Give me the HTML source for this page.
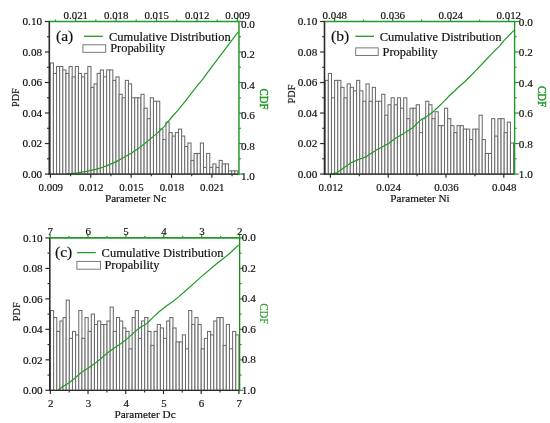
<!DOCTYPE html>
<html><head><meta charset="utf-8"><title>PDF and CDF of parameters</title>
<style>
html,body{margin:0;padding:0;background:#fff;}
svg{display:block;font-family:"Liberation Serif","Times New Roman",serif;}
</style></head><body>
<svg width="550" height="423" viewBox="0 0 550 423">
<rect x="0" y="0" width="550" height="423" fill="#fff"/>
<g fill="#fff" stroke="#6c6c6c" stroke-width="1.05">
<rect x="50.30" y="62.99" width="3.13" height="111.06"/>
<rect x="53.43" y="73.43" width="3.13" height="100.62"/>
<rect x="56.55" y="66.47" width="3.13" height="107.58"/>
<rect x="59.68" y="66.47" width="3.13" height="107.58"/>
<rect x="62.81" y="69.95" width="3.13" height="104.10"/>
<rect x="65.93" y="73.43" width="3.13" height="100.62"/>
<rect x="69.06" y="66.47" width="3.13" height="107.58"/>
<rect x="72.19" y="76.91" width="3.13" height="97.14"/>
<rect x="75.31" y="66.47" width="3.13" height="107.58"/>
<rect x="78.44" y="73.43" width="3.13" height="100.62"/>
<rect x="81.57" y="76.91" width="3.13" height="97.14"/>
<rect x="84.69" y="73.43" width="3.13" height="100.62"/>
<rect x="87.82" y="66.47" width="3.13" height="107.58"/>
<rect x="90.95" y="87.35" width="3.13" height="86.70"/>
<rect x="94.07" y="83.87" width="3.13" height="90.18"/>
<rect x="97.20" y="73.43" width="3.13" height="100.62"/>
<rect x="100.33" y="69.95" width="3.13" height="104.10"/>
<rect x="103.45" y="76.91" width="3.13" height="97.14"/>
<rect x="106.58" y="69.95" width="3.13" height="104.10"/>
<rect x="109.71" y="69.95" width="3.13" height="104.10"/>
<rect x="112.83" y="80.39" width="3.13" height="93.66"/>
<rect x="115.96" y="76.91" width="3.13" height="97.14"/>
<rect x="119.09" y="94.31" width="3.13" height="79.74"/>
<rect x="122.21" y="97.79" width="3.13" height="76.26"/>
<rect x="125.34" y="80.39" width="3.13" height="93.66"/>
<rect x="128.47" y="83.87" width="3.13" height="90.18"/>
<rect x="131.59" y="97.79" width="3.13" height="76.26"/>
<rect x="134.72" y="97.79" width="3.13" height="76.26"/>
<rect x="137.85" y="97.79" width="3.13" height="76.26"/>
<rect x="140.97" y="94.31" width="3.13" height="79.74"/>
<rect x="144.10" y="108.23" width="3.13" height="65.82"/>
<rect x="147.23" y="118.67" width="3.13" height="55.38"/>
<rect x="150.35" y="97.79" width="3.13" height="76.26"/>
<rect x="153.48" y="101.27" width="3.13" height="72.78"/>
<rect x="156.61" y="101.27" width="3.13" height="72.78"/>
<rect x="159.73" y="129.11" width="3.13" height="44.94"/>
<rect x="162.86" y="139.55" width="3.13" height="34.50"/>
<rect x="165.99" y="122.15" width="3.13" height="51.90"/>
<rect x="169.11" y="132.59" width="3.13" height="41.46"/>
<rect x="172.24" y="136.07" width="3.13" height="37.98"/>
<rect x="175.37" y="132.59" width="3.13" height="41.46"/>
<rect x="178.49" y="129.11" width="3.13" height="44.94"/>
<rect x="181.62" y="136.07" width="3.13" height="37.98"/>
<rect x="184.75" y="146.51" width="3.13" height="27.54"/>
<rect x="187.87" y="143.03" width="3.13" height="31.02"/>
<rect x="191.00" y="160.43" width="3.13" height="13.62"/>
<rect x="194.13" y="153.47" width="3.13" height="20.58"/>
<rect x="197.25" y="153.47" width="3.13" height="20.58"/>
<rect x="200.38" y="143.03" width="3.13" height="31.02"/>
<rect x="203.51" y="167.39" width="3.13" height="6.66"/>
<rect x="206.63" y="153.47" width="3.13" height="20.58"/>
<rect x="209.76" y="167.39" width="3.13" height="6.66"/>
<rect x="212.89" y="163.91" width="3.13" height="10.14"/>
<rect x="216.01" y="167.39" width="3.13" height="6.66"/>
<rect x="219.14" y="160.43" width="3.13" height="13.62"/>
<rect x="222.27" y="163.91" width="3.13" height="10.14"/>
<rect x="225.39" y="163.91" width="3.13" height="10.14"/>
<rect x="228.52" y="170.87" width="3.13" height="3.18"/>
<rect x="231.65" y="170.87" width="3.13" height="3.18"/>
<rect x="234.77" y="170.87" width="3.13" height="3.18"/>
</g>
<polyline points="66.0,173.9 70.0,173.7 77.3,172.8 86.4,171.3 95.5,169.3 100.0,168.2 106.4,165.9 112.8,163.1 119.2,160.1 125.5,156.5 131.9,152.8 138.3,148.6 144.7,143.5 151.1,138.4 157.5,132.9 163.9,126.9 166.2,124.0 171.9,117.0 178.3,109.8 184.7,101.9 191.1,93.6 197.5,85.3 202.4,79.6 209.5,69.9 216.0,61.4 222.5,52.7 229.0,44.1 235.5,35.4 238.3,31.9" fill="none" stroke="#229a26" stroke-width="1.2" stroke-linejoin="round"/>
<line x1="49.30" y1="20.90" x2="49.30" y2="174.75" stroke="#2b2b2b" stroke-width="1.6"/>
<line x1="48.50" y1="174.05" x2="238.95" y2="174.05" stroke="#2b2b2b" stroke-width="1.25"/>
<line x1="49.30" y1="21.50" x2="239.65" y2="21.50" stroke="#229a26" stroke-width="1.3"/>
<line x1="238.95" y1="21.50" x2="238.95" y2="174.65" stroke="#229a26" stroke-width="1.5"/>
<line x1="44.90" y1="21.50" x2="49.30" y2="21.50" stroke="#2b2b2b" stroke-width="1.2"/>
<text x="42.10" y="25.25" font-size="11.2" text-anchor="end" fill="#111" stroke="#111" stroke-width="0.18">0.10</text>
<line x1="47.00" y1="36.76" x2="49.30" y2="36.76" stroke="#2b2b2b" stroke-width="1.1"/>
<line x1="44.90" y1="52.01" x2="49.30" y2="52.01" stroke="#2b2b2b" stroke-width="1.2"/>
<text x="42.10" y="55.76" font-size="11.2" text-anchor="end" fill="#111" stroke="#111" stroke-width="0.18">0.08</text>
<line x1="47.00" y1="67.27" x2="49.30" y2="67.27" stroke="#2b2b2b" stroke-width="1.1"/>
<line x1="44.90" y1="82.52" x2="49.30" y2="82.52" stroke="#2b2b2b" stroke-width="1.2"/>
<text x="42.10" y="86.27" font-size="11.2" text-anchor="end" fill="#111" stroke="#111" stroke-width="0.18">0.06</text>
<line x1="47.00" y1="97.78" x2="49.30" y2="97.78" stroke="#2b2b2b" stroke-width="1.1"/>
<line x1="44.90" y1="113.03" x2="49.30" y2="113.03" stroke="#2b2b2b" stroke-width="1.2"/>
<text x="42.10" y="116.78" font-size="11.2" text-anchor="end" fill="#111" stroke="#111" stroke-width="0.18">0.04</text>
<line x1="47.00" y1="128.29" x2="49.30" y2="128.29" stroke="#2b2b2b" stroke-width="1.1"/>
<line x1="44.90" y1="143.54" x2="49.30" y2="143.54" stroke="#2b2b2b" stroke-width="1.2"/>
<text x="42.10" y="147.29" font-size="11.2" text-anchor="end" fill="#111" stroke="#111" stroke-width="0.18">0.02</text>
<line x1="47.00" y1="158.80" x2="49.30" y2="158.80" stroke="#2b2b2b" stroke-width="1.1"/>
<line x1="44.90" y1="174.05" x2="49.30" y2="174.05" stroke="#2b2b2b" stroke-width="1.2"/>
<text x="42.10" y="177.80" font-size="11.2" text-anchor="end" fill="#111" stroke="#111" stroke-width="0.18">0.00</text>
<line x1="238.95" y1="21.50" x2="242.55" y2="21.50" stroke="#229a26" stroke-width="1.2"/>
<text x="240.95" y="27.90" font-size="11.2" text-anchor="start" fill="#111" stroke="#111" stroke-width="0.18">0.0</text>
<line x1="238.95" y1="36.76" x2="240.95" y2="36.76" stroke="#229a26" stroke-width="1.1"/>
<line x1="238.95" y1="52.01" x2="242.55" y2="52.01" stroke="#229a26" stroke-width="1.2"/>
<text x="240.95" y="58.41" font-size="11.2" text-anchor="start" fill="#111" stroke="#111" stroke-width="0.18">0.2</text>
<line x1="238.95" y1="67.27" x2="240.95" y2="67.27" stroke="#229a26" stroke-width="1.1"/>
<line x1="238.95" y1="82.52" x2="242.55" y2="82.52" stroke="#229a26" stroke-width="1.2"/>
<text x="240.95" y="88.92" font-size="11.2" text-anchor="start" fill="#111" stroke="#111" stroke-width="0.18">0.4</text>
<line x1="238.95" y1="97.78" x2="240.95" y2="97.78" stroke="#229a26" stroke-width="1.1"/>
<line x1="238.95" y1="113.03" x2="242.55" y2="113.03" stroke="#229a26" stroke-width="1.2"/>
<text x="240.95" y="119.43" font-size="11.2" text-anchor="start" fill="#111" stroke="#111" stroke-width="0.18">0.6</text>
<line x1="238.95" y1="128.29" x2="240.95" y2="128.29" stroke="#229a26" stroke-width="1.1"/>
<line x1="238.95" y1="143.54" x2="242.55" y2="143.54" stroke="#229a26" stroke-width="1.2"/>
<text x="240.95" y="149.94" font-size="11.2" text-anchor="start" fill="#111" stroke="#111" stroke-width="0.18">0.8</text>
<line x1="238.95" y1="158.80" x2="240.95" y2="158.80" stroke="#229a26" stroke-width="1.1"/>
<line x1="238.95" y1="174.05" x2="242.55" y2="174.05" stroke="#229a26" stroke-width="1.2"/>
<text x="240.95" y="180.45" font-size="11.2" text-anchor="start" fill="#111" stroke="#111" stroke-width="0.18">1.0</text>
<line x1="50.40" y1="174.05" x2="50.40" y2="177.85" stroke="#2b2b2b" stroke-width="1.2"/>
<text x="50.80" y="190.55" font-size="10.9" text-anchor="middle" fill="#111" stroke="#111" stroke-width="0.18">0.009</text>
<line x1="70.58" y1="174.05" x2="70.58" y2="176.25" stroke="#2b2b2b" stroke-width="1.1"/>
<line x1="90.77" y1="174.05" x2="90.77" y2="177.85" stroke="#2b2b2b" stroke-width="1.2"/>
<text x="91.17" y="190.55" font-size="10.9" text-anchor="middle" fill="#111" stroke="#111" stroke-width="0.18">0.012</text>
<line x1="110.95" y1="174.05" x2="110.95" y2="176.25" stroke="#2b2b2b" stroke-width="1.1"/>
<line x1="131.14" y1="174.05" x2="131.14" y2="177.85" stroke="#2b2b2b" stroke-width="1.2"/>
<text x="131.54" y="190.55" font-size="10.9" text-anchor="middle" fill="#111" stroke="#111" stroke-width="0.18">0.015</text>
<line x1="151.32" y1="174.05" x2="151.32" y2="176.25" stroke="#2b2b2b" stroke-width="1.1"/>
<line x1="171.51" y1="174.05" x2="171.51" y2="177.85" stroke="#2b2b2b" stroke-width="1.2"/>
<text x="171.91" y="190.55" font-size="10.9" text-anchor="middle" fill="#111" stroke="#111" stroke-width="0.18">0.018</text>
<line x1="191.69" y1="174.05" x2="191.69" y2="176.25" stroke="#2b2b2b" stroke-width="1.1"/>
<line x1="211.88" y1="174.05" x2="211.88" y2="177.85" stroke="#2b2b2b" stroke-width="1.2"/>
<text x="212.28" y="190.55" font-size="10.9" text-anchor="middle" fill="#111" stroke="#111" stroke-width="0.18">0.021</text>
<line x1="232.06" y1="174.05" x2="232.06" y2="176.25" stroke="#2b2b2b" stroke-width="1.1"/>
<line x1="75.60" y1="21.50" x2="75.60" y2="17.70" stroke="#229a26" stroke-width="1.2"/>
<text x="75.80" y="19.00" font-size="10.9" text-anchor="middle" fill="#111" stroke="#111" stroke-width="0.18">0.021</text>
<line x1="95.82" y1="21.50" x2="95.82" y2="19.50" stroke="#229a26" stroke-width="1.1"/>
<line x1="116.05" y1="21.50" x2="116.05" y2="17.70" stroke="#229a26" stroke-width="1.2"/>
<text x="116.25" y="19.00" font-size="10.9" text-anchor="middle" fill="#111" stroke="#111" stroke-width="0.18">0.018</text>
<line x1="136.28" y1="21.50" x2="136.28" y2="19.50" stroke="#229a26" stroke-width="1.1"/>
<line x1="156.50" y1="21.50" x2="156.50" y2="17.70" stroke="#229a26" stroke-width="1.2"/>
<text x="156.70" y="19.00" font-size="10.9" text-anchor="middle" fill="#111" stroke="#111" stroke-width="0.18">0.015</text>
<line x1="176.72" y1="21.50" x2="176.72" y2="19.50" stroke="#229a26" stroke-width="1.1"/>
<line x1="196.95" y1="21.50" x2="196.95" y2="17.70" stroke="#229a26" stroke-width="1.2"/>
<text x="197.15" y="19.00" font-size="10.9" text-anchor="middle" fill="#111" stroke="#111" stroke-width="0.18">0.012</text>
<line x1="217.18" y1="21.50" x2="217.18" y2="19.50" stroke="#229a26" stroke-width="1.1"/>
<line x1="237.40" y1="21.50" x2="237.40" y2="17.70" stroke="#229a26" stroke-width="1.2"/>
<text x="237.60" y="19.00" font-size="10.9" text-anchor="middle" fill="#111" stroke="#111" stroke-width="0.18">0.009</text>
<line x1="55.37" y1="21.50" x2="55.37" y2="19.50" stroke="#229a26" stroke-width="1.1"/>
<text x="135.50" y="201.65" font-size="11.2" text-anchor="middle" fill="#111" stroke="#111" stroke-width="0.18">Parameter Nc</text>
<text transform="translate(19.40,97.60) rotate(-90)" font-size="11.3" text-anchor="middle" fill="#111" stroke="#111" stroke-width="0.18" textLength="18.8" lengthAdjust="spacingAndGlyphs">PDF</text>
<text transform="translate(259.55,99.00) rotate(90)" font-size="12.6" text-anchor="middle" fill="#229a26" stroke="#229a26" stroke-width="0.45" textLength="20.8" lengthAdjust="spacingAndGlyphs">CDF</text>
<text x="56.00" y="40.90" font-size="15.6" text-anchor="start" fill="#111" stroke="#111" stroke-width="0.18">(a)</text>
<line x1="84.10" y1="36.30" x2="102.80" y2="36.30" stroke="#229a26" stroke-width="1.3"/>
<text x="108.90" y="40.60" font-size="12.5" text-anchor="start" fill="#111" stroke="#111" stroke-width="0.18">Cumulative Distribution</text>
<rect x="82.90" y="44.80" width="22.80" height="7.50" fill="#fff" stroke="#6c6c6c" stroke-width="0.9"/>
<text x="110.20" y="52.40" font-size="12.4" text-anchor="start" fill="#111" stroke="#111" stroke-width="0.18">Propability</text>
<g fill="#fff" stroke="#6c6c6c" stroke-width="1.05">
<rect x="325.20" y="80.39" width="3.14" height="93.66"/>
<rect x="328.34" y="73.43" width="3.14" height="100.62"/>
<rect x="331.48" y="97.79" width="3.14" height="76.26"/>
<rect x="334.62" y="80.39" width="3.14" height="93.66"/>
<rect x="337.76" y="80.39" width="3.14" height="93.66"/>
<rect x="340.90" y="87.35" width="3.14" height="86.70"/>
<rect x="344.04" y="97.79" width="3.14" height="76.26"/>
<rect x="347.18" y="83.87" width="3.14" height="90.18"/>
<rect x="350.32" y="87.35" width="3.14" height="86.70"/>
<rect x="353.46" y="90.83" width="3.14" height="83.22"/>
<rect x="356.60" y="80.39" width="3.14" height="93.66"/>
<rect x="359.74" y="90.83" width="3.14" height="83.22"/>
<rect x="362.88" y="101.27" width="3.14" height="72.78"/>
<rect x="366.02" y="83.87" width="3.14" height="90.18"/>
<rect x="369.16" y="101.27" width="3.14" height="72.78"/>
<rect x="372.30" y="87.35" width="3.14" height="86.70"/>
<rect x="375.44" y="101.27" width="3.14" height="72.78"/>
<rect x="378.58" y="101.27" width="3.14" height="72.78"/>
<rect x="381.72" y="94.31" width="3.14" height="79.74"/>
<rect x="384.86" y="115.19" width="3.14" height="58.86"/>
<rect x="388.00" y="104.75" width="3.14" height="69.30"/>
<rect x="391.14" y="97.79" width="3.14" height="76.26"/>
<rect x="394.28" y="104.75" width="3.14" height="69.30"/>
<rect x="397.42" y="97.79" width="3.14" height="76.26"/>
<rect x="400.56" y="108.23" width="3.14" height="65.82"/>
<rect x="403.70" y="97.79" width="3.14" height="76.26"/>
<rect x="406.84" y="118.67" width="3.14" height="55.38"/>
<rect x="409.98" y="108.23" width="3.14" height="65.82"/>
<rect x="413.12" y="108.23" width="3.14" height="65.82"/>
<rect x="416.26" y="104.75" width="3.14" height="69.30"/>
<rect x="419.40" y="132.59" width="3.14" height="41.46"/>
<rect x="422.54" y="118.67" width="3.14" height="55.38"/>
<rect x="425.68" y="101.27" width="3.14" height="72.78"/>
<rect x="428.82" y="104.75" width="3.14" height="69.30"/>
<rect x="431.96" y="118.67" width="3.14" height="55.38"/>
<rect x="435.10" y="111.71" width="3.14" height="62.34"/>
<rect x="438.24" y="125.63" width="3.14" height="48.42"/>
<rect x="441.38" y="125.63" width="3.14" height="48.42"/>
<rect x="444.52" y="108.23" width="3.14" height="65.82"/>
<rect x="447.66" y="118.67" width="3.14" height="55.38"/>
<rect x="450.80" y="125.63" width="3.14" height="48.42"/>
<rect x="453.94" y="132.59" width="3.14" height="41.46"/>
<rect x="457.08" y="125.63" width="3.14" height="48.42"/>
<rect x="460.22" y="125.63" width="3.14" height="48.42"/>
<rect x="463.36" y="129.11" width="3.14" height="44.94"/>
<rect x="466.50" y="129.11" width="3.14" height="44.94"/>
<rect x="469.64" y="139.55" width="3.14" height="34.50"/>
<rect x="472.78" y="129.11" width="3.14" height="44.94"/>
<rect x="475.92" y="129.11" width="3.14" height="44.94"/>
<rect x="479.06" y="115.19" width="3.14" height="58.86"/>
<rect x="482.20" y="139.55" width="3.14" height="34.50"/>
<rect x="485.34" y="153.47" width="3.14" height="20.58"/>
<rect x="488.48" y="153.47" width="3.14" height="20.58"/>
<rect x="491.62" y="118.67" width="3.14" height="55.38"/>
<rect x="494.76" y="136.07" width="3.14" height="37.98"/>
<rect x="497.90" y="118.67" width="3.14" height="55.38"/>
<rect x="501.04" y="118.67" width="3.14" height="55.38"/>
<rect x="504.18" y="132.59" width="3.14" height="41.46"/>
<rect x="507.32" y="122.15" width="3.14" height="51.90"/>
<rect x="510.46" y="143.03" width="3.14" height="31.02"/>
</g>
<polyline points="330.7,173.8 335.9,173.2 337.8,171.9 344.2,167.4 350.5,163.0 356.9,160.1 363.3,157.8 366.5,156.6 369.7,154.3 376.1,150.2 382.5,146.7 388.9,143.2 391.3,141.2 396.4,137.8 402.8,134.0 409.2,130.1 413.0,127.6 415.5,125.0 420.0,120.6 421.9,119.3 428.3,115.5 432.1,112.6 434.7,110.3 441.1,104.2 443.5,101.8 450.0,95.0 455.0,90.5 460.0,85.8 465.0,81.5 470.0,76.5 475.7,70.6 484.0,62.0 492.2,53.3 499.7,45.8 503.9,40.6 513.9,30.3" fill="none" stroke="#229a26" stroke-width="1.2" stroke-linejoin="round"/>
<line x1="324.50" y1="20.90" x2="324.50" y2="174.75" stroke="#2b2b2b" stroke-width="1.6"/>
<line x1="323.70" y1="174.05" x2="514.60" y2="174.05" stroke="#2b2b2b" stroke-width="1.25"/>
<line x1="324.50" y1="21.50" x2="515.20" y2="21.50" stroke="#229a26" stroke-width="1.3"/>
<line x1="514.60" y1="21.50" x2="514.60" y2="174.65" stroke="#1e9422" stroke-width="1.35"/>
<line x1="320.10" y1="21.50" x2="324.50" y2="21.50" stroke="#2b2b2b" stroke-width="1.2"/>
<text x="317.30" y="25.25" font-size="11.2" text-anchor="end" fill="#111" stroke="#111" stroke-width="0.18">0.10</text>
<line x1="322.20" y1="36.76" x2="324.50" y2="36.76" stroke="#2b2b2b" stroke-width="1.1"/>
<line x1="320.10" y1="52.01" x2="324.50" y2="52.01" stroke="#2b2b2b" stroke-width="1.2"/>
<text x="317.30" y="55.76" font-size="11.2" text-anchor="end" fill="#111" stroke="#111" stroke-width="0.18">0.08</text>
<line x1="322.20" y1="67.27" x2="324.50" y2="67.27" stroke="#2b2b2b" stroke-width="1.1"/>
<line x1="320.10" y1="82.52" x2="324.50" y2="82.52" stroke="#2b2b2b" stroke-width="1.2"/>
<text x="317.30" y="86.27" font-size="11.2" text-anchor="end" fill="#111" stroke="#111" stroke-width="0.18">0.06</text>
<line x1="322.20" y1="97.78" x2="324.50" y2="97.78" stroke="#2b2b2b" stroke-width="1.1"/>
<line x1="320.10" y1="113.03" x2="324.50" y2="113.03" stroke="#2b2b2b" stroke-width="1.2"/>
<text x="317.30" y="116.78" font-size="11.2" text-anchor="end" fill="#111" stroke="#111" stroke-width="0.18">0.04</text>
<line x1="322.20" y1="128.29" x2="324.50" y2="128.29" stroke="#2b2b2b" stroke-width="1.1"/>
<line x1="320.10" y1="143.54" x2="324.50" y2="143.54" stroke="#2b2b2b" stroke-width="1.2"/>
<text x="317.30" y="147.29" font-size="11.2" text-anchor="end" fill="#111" stroke="#111" stroke-width="0.18">0.02</text>
<line x1="322.20" y1="158.80" x2="324.50" y2="158.80" stroke="#2b2b2b" stroke-width="1.1"/>
<line x1="320.10" y1="174.05" x2="324.50" y2="174.05" stroke="#2b2b2b" stroke-width="1.2"/>
<text x="317.30" y="177.80" font-size="11.2" text-anchor="end" fill="#111" stroke="#111" stroke-width="0.18">0.00</text>
<line x1="514.60" y1="21.50" x2="518.90" y2="21.50" stroke="#229a26" stroke-width="1.2"/>
<text x="518.80" y="25.80" font-size="11.2" text-anchor="start" fill="#111" stroke="#111" stroke-width="0.18">0.0</text>
<line x1="514.60" y1="36.76" x2="516.60" y2="36.76" stroke="#229a26" stroke-width="1.1"/>
<line x1="514.60" y1="52.01" x2="518.90" y2="52.01" stroke="#229a26" stroke-width="1.2"/>
<text x="518.80" y="56.31" font-size="11.2" text-anchor="start" fill="#111" stroke="#111" stroke-width="0.18">0.2</text>
<line x1="514.60" y1="67.27" x2="516.60" y2="67.27" stroke="#229a26" stroke-width="1.1"/>
<line x1="514.60" y1="82.52" x2="518.90" y2="82.52" stroke="#229a26" stroke-width="1.2"/>
<text x="518.80" y="86.82" font-size="11.2" text-anchor="start" fill="#111" stroke="#111" stroke-width="0.18">0.4</text>
<line x1="514.60" y1="97.78" x2="516.60" y2="97.78" stroke="#229a26" stroke-width="1.1"/>
<line x1="514.60" y1="113.03" x2="518.90" y2="113.03" stroke="#229a26" stroke-width="1.2"/>
<text x="518.80" y="117.33" font-size="11.2" text-anchor="start" fill="#111" stroke="#111" stroke-width="0.18">0.6</text>
<line x1="514.60" y1="128.29" x2="516.60" y2="128.29" stroke="#229a26" stroke-width="1.1"/>
<line x1="514.60" y1="143.54" x2="518.90" y2="143.54" stroke="#229a26" stroke-width="1.2"/>
<text x="518.80" y="147.84" font-size="11.2" text-anchor="start" fill="#111" stroke="#111" stroke-width="0.18">0.8</text>
<line x1="514.60" y1="158.80" x2="516.60" y2="158.80" stroke="#229a26" stroke-width="1.1"/>
<line x1="514.60" y1="174.05" x2="518.90" y2="174.05" stroke="#229a26" stroke-width="1.2"/>
<text x="518.80" y="178.35" font-size="11.2" text-anchor="start" fill="#111" stroke="#111" stroke-width="0.18">1.0</text>
<line x1="330.40" y1="174.05" x2="330.40" y2="177.85" stroke="#2b2b2b" stroke-width="1.2"/>
<text x="330.80" y="190.55" font-size="10.9" text-anchor="middle" fill="#111" stroke="#111" stroke-width="0.18">0.012</text>
<line x1="359.30" y1="174.05" x2="359.30" y2="176.25" stroke="#2b2b2b" stroke-width="1.1"/>
<line x1="388.20" y1="174.05" x2="388.20" y2="177.85" stroke="#2b2b2b" stroke-width="1.2"/>
<text x="388.60" y="190.55" font-size="10.9" text-anchor="middle" fill="#111" stroke="#111" stroke-width="0.18">0.024</text>
<line x1="417.10" y1="174.05" x2="417.10" y2="176.25" stroke="#2b2b2b" stroke-width="1.1"/>
<line x1="446.00" y1="174.05" x2="446.00" y2="177.85" stroke="#2b2b2b" stroke-width="1.2"/>
<text x="446.40" y="190.55" font-size="10.9" text-anchor="middle" fill="#111" stroke="#111" stroke-width="0.18">0.036</text>
<line x1="474.90" y1="174.05" x2="474.90" y2="176.25" stroke="#2b2b2b" stroke-width="1.1"/>
<line x1="503.80" y1="174.05" x2="503.80" y2="177.85" stroke="#2b2b2b" stroke-width="1.2"/>
<text x="504.20" y="190.55" font-size="10.9" text-anchor="middle" fill="#111" stroke="#111" stroke-width="0.18">0.048</text>
<line x1="334.60" y1="21.50" x2="334.60" y2="17.70" stroke="#229a26" stroke-width="1.2"/>
<text x="334.80" y="19.00" font-size="10.9" text-anchor="middle" fill="#111" stroke="#111" stroke-width="0.18">0.048</text>
<line x1="363.60" y1="21.50" x2="363.60" y2="19.50" stroke="#229a26" stroke-width="1.1"/>
<line x1="392.60" y1="21.50" x2="392.60" y2="17.70" stroke="#229a26" stroke-width="1.2"/>
<text x="392.80" y="19.00" font-size="10.9" text-anchor="middle" fill="#111" stroke="#111" stroke-width="0.18">0.036</text>
<line x1="421.60" y1="21.50" x2="421.60" y2="19.50" stroke="#229a26" stroke-width="1.1"/>
<line x1="450.60" y1="21.50" x2="450.60" y2="17.70" stroke="#229a26" stroke-width="1.2"/>
<text x="450.80" y="19.00" font-size="10.9" text-anchor="middle" fill="#111" stroke="#111" stroke-width="0.18">0.024</text>
<line x1="479.60" y1="21.50" x2="479.60" y2="19.50" stroke="#229a26" stroke-width="1.1"/>
<line x1="508.60" y1="21.50" x2="508.60" y2="17.70" stroke="#229a26" stroke-width="1.2"/>
<text x="508.80" y="19.00" font-size="10.9" text-anchor="middle" fill="#111" stroke="#111" stroke-width="0.18">0.012</text>
<text x="420.00" y="201.65" font-size="11.2" text-anchor="middle" fill="#111" stroke="#111" stroke-width="0.18">Parameter Ni</text>
<text transform="translate(294.60,94.00) rotate(-90)" font-size="11.3" text-anchor="middle" fill="#111" stroke="#111" stroke-width="0.18" textLength="18.8" lengthAdjust="spacingAndGlyphs">PDF</text>
<text transform="translate(537.50,96.50) rotate(90)" font-size="12.6" text-anchor="middle" fill="#229a26" stroke="#229a26" stroke-width="0.45" textLength="20.8" lengthAdjust="spacingAndGlyphs">CDF</text>
<text x="331.00" y="40.90" font-size="15.6" text-anchor="start" fill="#111" stroke="#111" stroke-width="0.18">(b)</text>
<line x1="355.30" y1="36.30" x2="374.00" y2="36.30" stroke="#229a26" stroke-width="1.3"/>
<text x="379.70" y="40.60" font-size="12.5" text-anchor="start" fill="#111" stroke="#111" stroke-width="0.18">Cumulative Distribution</text>
<rect x="355.70" y="47.90" width="22.50" height="7.60" fill="#fff" stroke="#6c6c6c" stroke-width="0.9"/>
<text x="382.60" y="55.60" font-size="12.4" text-anchor="start" fill="#111" stroke="#111" stroke-width="0.18">Propability</text>
<g fill="#fff" stroke="#6c6c6c" stroke-width="1.05">
<rect x="50.50" y="310.56" width="3.14" height="79.74"/>
<rect x="53.64" y="317.52" width="3.14" height="72.78"/>
<rect x="56.78" y="331.44" width="3.14" height="58.86"/>
<rect x="59.92" y="321.00" width="3.14" height="69.30"/>
<rect x="63.06" y="317.52" width="3.14" height="72.78"/>
<rect x="66.20" y="300.12" width="3.14" height="90.18"/>
<rect x="69.34" y="338.40" width="3.14" height="51.90"/>
<rect x="72.48" y="331.44" width="3.14" height="58.86"/>
<rect x="75.62" y="334.92" width="3.14" height="55.38"/>
<rect x="78.76" y="310.56" width="3.14" height="79.74"/>
<rect x="81.90" y="338.40" width="3.14" height="51.90"/>
<rect x="85.04" y="317.52" width="3.14" height="72.78"/>
<rect x="88.18" y="331.44" width="3.14" height="58.86"/>
<rect x="91.32" y="314.04" width="3.14" height="76.26"/>
<rect x="94.46" y="324.48" width="3.14" height="65.82"/>
<rect x="97.60" y="321.00" width="3.14" height="69.30"/>
<rect x="100.74" y="324.48" width="3.14" height="65.82"/>
<rect x="103.88" y="324.48" width="3.14" height="65.82"/>
<rect x="107.02" y="321.00" width="3.14" height="69.30"/>
<rect x="110.16" y="307.08" width="3.14" height="83.22"/>
<rect x="113.30" y="331.44" width="3.14" height="58.86"/>
<rect x="116.44" y="317.52" width="3.14" height="72.78"/>
<rect x="119.58" y="321.00" width="3.14" height="69.30"/>
<rect x="122.72" y="327.96" width="3.14" height="62.34"/>
<rect x="125.86" y="331.44" width="3.14" height="58.86"/>
<rect x="129.00" y="348.84" width="3.14" height="41.46"/>
<rect x="132.14" y="317.52" width="3.14" height="72.78"/>
<rect x="135.28" y="310.56" width="3.14" height="79.74"/>
<rect x="138.42" y="338.40" width="3.14" height="51.90"/>
<rect x="141.56" y="321.00" width="3.14" height="69.30"/>
<rect x="144.70" y="317.52" width="3.14" height="72.78"/>
<rect x="147.84" y="331.44" width="3.14" height="58.86"/>
<rect x="150.98" y="345.36" width="3.14" height="44.94"/>
<rect x="154.12" y="331.44" width="3.14" height="58.86"/>
<rect x="157.26" y="324.48" width="3.14" height="65.82"/>
<rect x="160.40" y="327.96" width="3.14" height="62.34"/>
<rect x="163.54" y="338.40" width="3.14" height="51.90"/>
<rect x="166.68" y="321.00" width="3.14" height="69.30"/>
<rect x="169.82" y="317.52" width="3.14" height="72.78"/>
<rect x="172.96" y="327.96" width="3.14" height="62.34"/>
<rect x="176.10" y="341.88" width="3.14" height="48.42"/>
<rect x="179.24" y="341.88" width="3.14" height="48.42"/>
<rect x="182.38" y="334.92" width="3.14" height="55.38"/>
<rect x="185.52" y="348.84" width="3.14" height="41.46"/>
<rect x="188.66" y="310.56" width="3.14" height="79.74"/>
<rect x="191.80" y="324.48" width="3.14" height="65.82"/>
<rect x="194.94" y="317.52" width="3.14" height="72.78"/>
<rect x="198.08" y="324.48" width="3.14" height="65.82"/>
<rect x="201.22" y="348.84" width="3.14" height="41.46"/>
<rect x="204.36" y="338.40" width="3.14" height="51.90"/>
<rect x="207.50" y="331.44" width="3.14" height="58.86"/>
<rect x="210.64" y="334.92" width="3.14" height="55.38"/>
<rect x="213.78" y="321.00" width="3.14" height="69.30"/>
<rect x="216.92" y="317.52" width="3.14" height="72.78"/>
<rect x="220.06" y="317.52" width="3.14" height="72.78"/>
<rect x="223.20" y="345.36" width="3.14" height="44.94"/>
<rect x="226.34" y="324.48" width="3.14" height="65.82"/>
<rect x="229.48" y="348.84" width="3.14" height="41.46"/>
<rect x="232.62" y="331.44" width="3.14" height="58.86"/>
<rect x="235.76" y="334.92" width="3.14" height="55.38"/>
</g>
<polyline points="58.3,389.8 62.8,386.6 69.2,382.8 75.5,377.7 81.9,371.9 88.3,368.1 94.7,363.6 101.1,358.5 107.5,352.8 113.9,348.3 121.4,343.3 127.8,338.1 134.2,332.4 140.5,327.3 146.9,323.5 153.3,317.1 159.7,311.3 166.1,306.2 172.5,301.7 178.9,296.6 186.2,290.3 200.3,277.6 214.5,265.5 228.7,254.2 238.6,245.0" fill="none" stroke="#229a26" stroke-width="1.2" stroke-linejoin="round"/>
<line x1="49.80" y1="237.30" x2="49.80" y2="391.00" stroke="#2b2b2b" stroke-width="1.6"/>
<line x1="49.00" y1="390.30" x2="239.65" y2="390.30" stroke="#2b2b2b" stroke-width="1.25"/>
<line x1="49.80" y1="237.90" x2="240.25" y2="237.90" stroke="#229a26" stroke-width="1.75"/>
<line x1="239.65" y1="237.90" x2="239.65" y2="390.90" stroke="#1a8c1e" stroke-width="1.3"/>
<line x1="45.40" y1="237.90" x2="49.80" y2="237.90" stroke="#2b2b2b" stroke-width="1.2"/>
<text x="42.60" y="241.65" font-size="11.2" text-anchor="end" fill="#111" stroke="#111" stroke-width="0.18">0.10</text>
<line x1="47.50" y1="253.14" x2="49.80" y2="253.14" stroke="#2b2b2b" stroke-width="1.1"/>
<line x1="45.40" y1="268.38" x2="49.80" y2="268.38" stroke="#2b2b2b" stroke-width="1.2"/>
<text x="42.60" y="272.13" font-size="11.2" text-anchor="end" fill="#111" stroke="#111" stroke-width="0.18">0.08</text>
<line x1="47.50" y1="283.62" x2="49.80" y2="283.62" stroke="#2b2b2b" stroke-width="1.1"/>
<line x1="45.40" y1="298.86" x2="49.80" y2="298.86" stroke="#2b2b2b" stroke-width="1.2"/>
<text x="42.60" y="302.61" font-size="11.2" text-anchor="end" fill="#111" stroke="#111" stroke-width="0.18">0.06</text>
<line x1="47.50" y1="314.10" x2="49.80" y2="314.10" stroke="#2b2b2b" stroke-width="1.1"/>
<line x1="45.40" y1="329.34" x2="49.80" y2="329.34" stroke="#2b2b2b" stroke-width="1.2"/>
<text x="42.60" y="333.09" font-size="11.2" text-anchor="end" fill="#111" stroke="#111" stroke-width="0.18">0.04</text>
<line x1="47.50" y1="344.58" x2="49.80" y2="344.58" stroke="#2b2b2b" stroke-width="1.1"/>
<line x1="45.40" y1="359.82" x2="49.80" y2="359.82" stroke="#2b2b2b" stroke-width="1.2"/>
<text x="42.60" y="363.57" font-size="11.2" text-anchor="end" fill="#111" stroke="#111" stroke-width="0.18">0.02</text>
<line x1="47.50" y1="375.06" x2="49.80" y2="375.06" stroke="#2b2b2b" stroke-width="1.1"/>
<line x1="45.40" y1="390.30" x2="49.80" y2="390.30" stroke="#2b2b2b" stroke-width="1.2"/>
<text x="42.60" y="394.05" font-size="11.2" text-anchor="end" fill="#111" stroke="#111" stroke-width="0.18">0.00</text>
<line x1="239.65" y1="237.90" x2="243.25" y2="237.90" stroke="#229a26" stroke-width="1.2"/>
<text x="241.85" y="241.20" font-size="11.2" text-anchor="start" fill="#111" stroke="#111" stroke-width="0.18">0.0</text>
<line x1="239.65" y1="253.14" x2="241.65" y2="253.14" stroke="#229a26" stroke-width="1.1"/>
<line x1="239.65" y1="268.38" x2="243.25" y2="268.38" stroke="#229a26" stroke-width="1.2"/>
<text x="241.85" y="271.68" font-size="11.2" text-anchor="start" fill="#111" stroke="#111" stroke-width="0.18">0.2</text>
<line x1="239.65" y1="283.62" x2="241.65" y2="283.62" stroke="#229a26" stroke-width="1.1"/>
<line x1="239.65" y1="298.86" x2="243.25" y2="298.86" stroke="#229a26" stroke-width="1.2"/>
<text x="241.85" y="302.16" font-size="11.2" text-anchor="start" fill="#111" stroke="#111" stroke-width="0.18">0.4</text>
<line x1="239.65" y1="314.10" x2="241.65" y2="314.10" stroke="#229a26" stroke-width="1.1"/>
<line x1="239.65" y1="329.34" x2="243.25" y2="329.34" stroke="#229a26" stroke-width="1.2"/>
<text x="241.85" y="332.64" font-size="11.2" text-anchor="start" fill="#111" stroke="#111" stroke-width="0.18">0.6</text>
<line x1="239.65" y1="344.58" x2="241.65" y2="344.58" stroke="#229a26" stroke-width="1.1"/>
<line x1="239.65" y1="359.82" x2="243.25" y2="359.82" stroke="#229a26" stroke-width="1.2"/>
<text x="241.85" y="363.12" font-size="11.2" text-anchor="start" fill="#111" stroke="#111" stroke-width="0.18">0.8</text>
<line x1="239.65" y1="375.06" x2="241.65" y2="375.06" stroke="#229a26" stroke-width="1.1"/>
<line x1="239.65" y1="390.30" x2="243.25" y2="390.30" stroke="#229a26" stroke-width="1.2"/>
<text x="241.85" y="393.60" font-size="11.2" text-anchor="start" fill="#111" stroke="#111" stroke-width="0.18">1.0</text>
<line x1="50.30" y1="390.30" x2="50.30" y2="394.10" stroke="#2b2b2b" stroke-width="1.2"/>
<text x="50.70" y="406.80" font-size="10.9" text-anchor="middle" fill="#111" stroke="#111" stroke-width="0.18">2</text>
<line x1="69.16" y1="390.30" x2="69.16" y2="392.50" stroke="#2b2b2b" stroke-width="1.1"/>
<line x1="88.02" y1="390.30" x2="88.02" y2="394.10" stroke="#2b2b2b" stroke-width="1.2"/>
<text x="88.42" y="406.80" font-size="10.9" text-anchor="middle" fill="#111" stroke="#111" stroke-width="0.18">3</text>
<line x1="106.88" y1="390.30" x2="106.88" y2="392.50" stroke="#2b2b2b" stroke-width="1.1"/>
<line x1="125.74" y1="390.30" x2="125.74" y2="394.10" stroke="#2b2b2b" stroke-width="1.2"/>
<text x="126.14" y="406.80" font-size="10.9" text-anchor="middle" fill="#111" stroke="#111" stroke-width="0.18">4</text>
<line x1="144.60" y1="390.30" x2="144.60" y2="392.50" stroke="#2b2b2b" stroke-width="1.1"/>
<line x1="163.46" y1="390.30" x2="163.46" y2="394.10" stroke="#2b2b2b" stroke-width="1.2"/>
<text x="163.86" y="406.80" font-size="10.9" text-anchor="middle" fill="#111" stroke="#111" stroke-width="0.18">5</text>
<line x1="182.32" y1="390.30" x2="182.32" y2="392.50" stroke="#2b2b2b" stroke-width="1.1"/>
<line x1="201.18" y1="390.30" x2="201.18" y2="394.10" stroke="#2b2b2b" stroke-width="1.2"/>
<text x="201.58" y="406.80" font-size="10.9" text-anchor="middle" fill="#111" stroke="#111" stroke-width="0.18">6</text>
<line x1="220.04" y1="390.30" x2="220.04" y2="392.50" stroke="#2b2b2b" stroke-width="1.1"/>
<line x1="238.90" y1="390.30" x2="238.90" y2="394.10" stroke="#2b2b2b" stroke-width="1.2"/>
<text x="239.30" y="406.80" font-size="10.9" text-anchor="middle" fill="#111" stroke="#111" stroke-width="0.18">7</text>
<line x1="50.10" y1="237.90" x2="50.10" y2="234.10" stroke="#229a26" stroke-width="1.2"/>
<text x="50.30" y="235.40" font-size="10.9" text-anchor="middle" fill="#111" stroke="#111" stroke-width="0.18">7</text>
<line x1="69.05" y1="237.90" x2="69.05" y2="235.90" stroke="#229a26" stroke-width="1.1"/>
<line x1="88.00" y1="237.90" x2="88.00" y2="234.10" stroke="#229a26" stroke-width="1.2"/>
<text x="88.20" y="235.40" font-size="10.9" text-anchor="middle" fill="#111" stroke="#111" stroke-width="0.18">6</text>
<line x1="106.95" y1="237.90" x2="106.95" y2="235.90" stroke="#229a26" stroke-width="1.1"/>
<line x1="125.90" y1="237.90" x2="125.90" y2="234.10" stroke="#229a26" stroke-width="1.2"/>
<text x="126.10" y="235.40" font-size="10.9" text-anchor="middle" fill="#111" stroke="#111" stroke-width="0.18">5</text>
<line x1="144.85" y1="237.90" x2="144.85" y2="235.90" stroke="#229a26" stroke-width="1.1"/>
<line x1="163.80" y1="237.90" x2="163.80" y2="234.10" stroke="#229a26" stroke-width="1.2"/>
<text x="164.00" y="235.40" font-size="10.9" text-anchor="middle" fill="#111" stroke="#111" stroke-width="0.18">4</text>
<line x1="182.75" y1="237.90" x2="182.75" y2="235.90" stroke="#229a26" stroke-width="1.1"/>
<line x1="201.70" y1="237.90" x2="201.70" y2="234.10" stroke="#229a26" stroke-width="1.2"/>
<text x="201.90" y="235.40" font-size="10.9" text-anchor="middle" fill="#111" stroke="#111" stroke-width="0.18">3</text>
<line x1="220.65" y1="237.90" x2="220.65" y2="235.90" stroke="#229a26" stroke-width="1.1"/>
<line x1="239.60" y1="237.90" x2="239.60" y2="234.10" stroke="#229a26" stroke-width="1.2"/>
<text x="239.80" y="235.40" font-size="10.9" text-anchor="middle" fill="#111" stroke="#111" stroke-width="0.18">2</text>
<text x="145.00" y="417.90" font-size="11.2" text-anchor="middle" fill="#111" stroke="#111" stroke-width="0.18">Parameter Dc</text>
<text transform="translate(19.90,311.80) rotate(-90)" font-size="11.3" text-anchor="middle" fill="#111" stroke="#111" stroke-width="0.18" textLength="18.8" lengthAdjust="spacingAndGlyphs">PDF</text>
<text transform="translate(260.25,313.80) rotate(90)" font-size="12.6" text-anchor="middle" fill="#229a26" stroke="#229a26" stroke-width="0.15" textLength="20.8" lengthAdjust="spacingAndGlyphs">CDF</text>
<text x="55.00" y="256.90" font-size="15.6" text-anchor="start" fill="#111" stroke="#111" stroke-width="0.18">(c)</text>
<line x1="77.10" y1="252.60" x2="95.80" y2="252.60" stroke="#229a26" stroke-width="1.3"/>
<text x="101.60" y="256.90" font-size="12.5" text-anchor="start" fill="#111" stroke="#111" stroke-width="0.18">Cumulative Distribution</text>
<rect x="76.90" y="261.40" width="23.50" height="7.80" fill="#fff" stroke="#6c6c6c" stroke-width="0.9"/>
<text x="104.40" y="269.40" font-size="12.4" text-anchor="start" fill="#111" stroke="#111" stroke-width="0.18">Propability</text>
</svg>
</body></html>
